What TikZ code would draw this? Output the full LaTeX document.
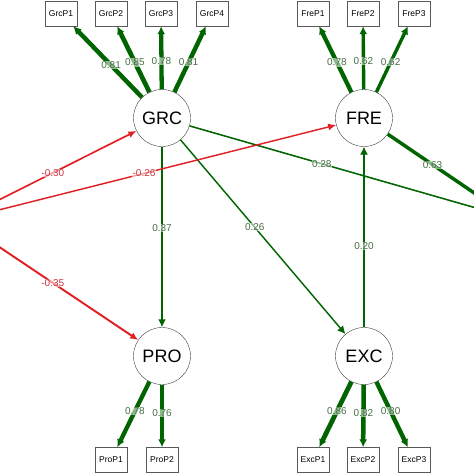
\documentclass[tikz,border=0pt]{standalone}
\usepackage{fontspec}
\setmainfont{Liberation Sans}
\usetikzlibrary{arrows.meta}
\definecolor{posgreen}{RGB}{0,100,0}
\definecolor{posgreentext}{RGB}{70,110,70}
\definecolor{negred}{RGB}{225,30,35}
\definecolor{negredtext}{RGB}{200,55,65}
\tikzset{
  latent/.style={
    circle,
    draw=black!75,
    fill=white,
    thin,
    minimum size=57pt,
    inner sep=0pt,
    font=\fontsize{18}{18}\selectfont,
  },
  indicator/.style={
    rectangle,
    draw=black!65,
    fill=white,
    minimum width=32pt,
    minimum height=25pt,
    inner sep=0pt,
    font=\fontsize{8.5}{8.5}\selectfont,
  },
  posedge/.style={
    draw=posgreen,
    line width=#1*5.5pt,
    -{Latex[length=8pt, width=8pt]},
  },
  negedge/.style={
    draw=negred,
    line width=-#1*5.5pt,
    -{Latex[length=8pt, width=7pt]},
  },
  poslabel/.style={
    pos=0.45,
    text=posgreentext,
    fill=white,
    fill opacity=0.55,
    text opacity=1,
    inner sep=0.5pt,
    font=\fontsize{10}{10}\selectfont,
  },
  neglabel/.style={
    poslabel,
    text=negredtext,
  },
}

\begin{document}
\begin{tikzpicture}[x=1pt, y=-1pt]
  \useasboundingbox (0,0) rectangle (474,474);
  \clip (0,0) rectangle (474,474);
  \fill[white] (0,0) rectangle (474,474);

  % latent variables
  \node[latent] (grc) at (162,118) {GRC};
  \node[latent] (fre) at (364,118) {FRE};
  \node[latent] (pro) at (162,356) {PRO};
  \node[latent] (exc) at (364,356) {EXC};
  % cut off by the frame
  \node[latent] (lhs) at (-41,220) {};
  \node[latent] (rhs) at (511,218) {};

  % indicators
  \foreach \name/\x in {GrcP1/61, GrcP2/111, GrcP3/161, GrcP4/212, FreP1/313, FreP2/363, FreP3/414}
    \node[indicator] (\name) at (\x,13.5) {\name};
  \foreach \name/\x in {ProP1/111, ProP2/162, ExcP1/313, ExcP2/363, ExcP3/414}
    \node[indicator] (\name) at (\x,460) {\name};

  % loadings
  \foreach \from/\to/\val in {
    grc/GrcP1/0.81,
    grc/GrcP2/0.85,
    grc/GrcP3/0.78,
    grc/GrcP4/0.81,
    fre/FreP1/0.78,
    fre/FreP2/0.62,
    fre/FreP3/0.62,
    pro/ProP1/0.78,
    pro/ProP2/0.76,
    exc/ExcP1/0.86,
    exc/ExcP2/0.82,
    exc/ExcP3/0.80
  }
    \draw[posedge=\val] (\from) -- (\to) node[poslabel] {\val};

  % regressions
  \foreach \from/\to/\val in {
    grc/pro/0.37,
    grc/exc/0.26,
    exc/fre/0.20,
    grc/rhs/0.28,
    fre/rhs/0.63
  }
    \draw[posedge=\val] (\from) -- (\to) node[poslabel] {\val};

  \foreach \from/\to/\val in {
    lhs/grc/-0.30,
    lhs/fre/-0.26,
    lhs/pro/-0.35
  }
    \draw[negedge=\val] (\from) -- (\to) node[neglabel] {\val};

\end{tikzpicture}
\end{document}
